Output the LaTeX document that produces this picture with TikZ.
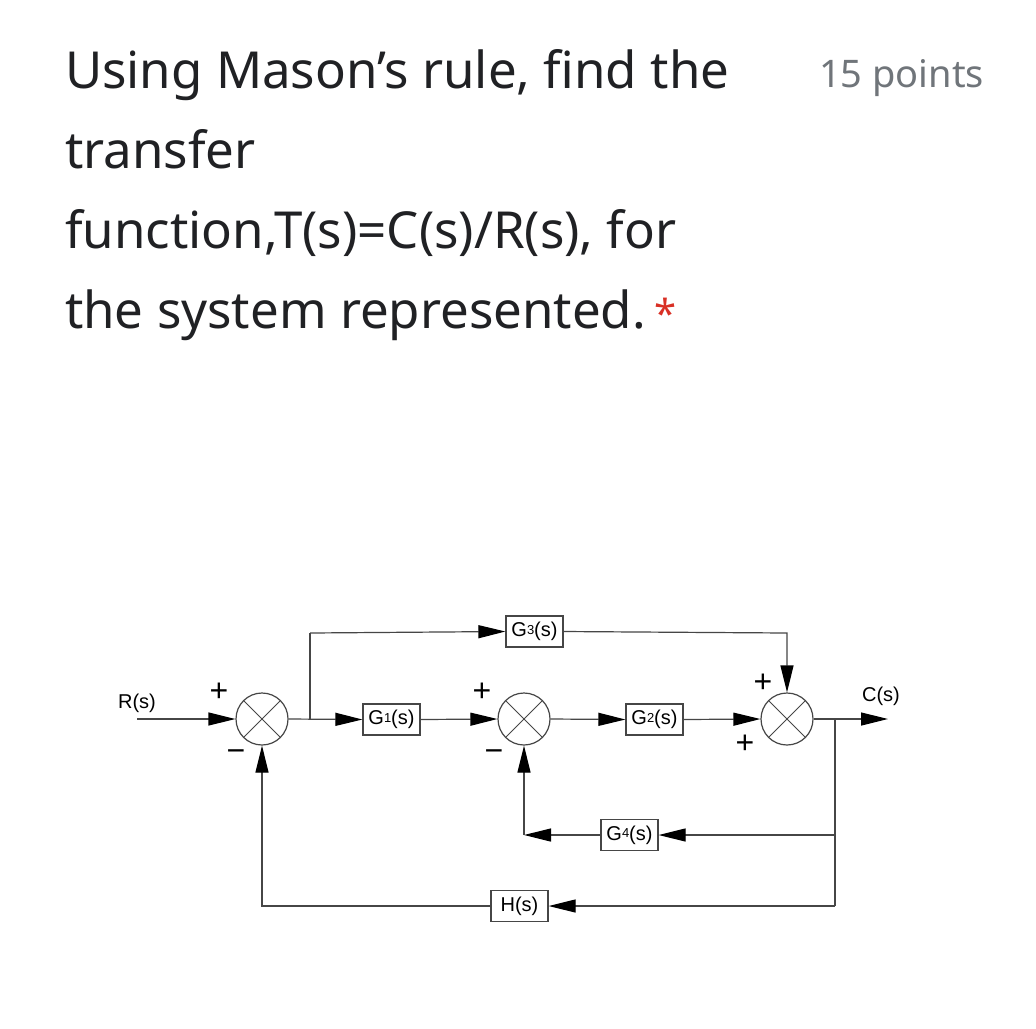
\documentclass[tikz,border=0pt]{standalone}
\usepackage{fontspec}
\setmainfont{Liberation Sans}
\newfontfamily\titlefont{Noto Sans}
\usetikzlibrary{arrows.meta}
\definecolor{ln}{RGB}{70,70,70}
\definecolor{pts}{RGB}{112,117,122}
\definecolor{ttl}{RGB}{32,33,36}
\definecolor{star}{RGB}{217,48,37}
\newcommand{\gblk}[1]{G\raisebox{0.25ex}{\fontsize{6.5}{7}\selectfont #1}(s)}
\begin{document}
\begin{tikzpicture}[x=0.5pt,y=-0.5pt,
  line/.style={draw=ln,line width=0.6pt},
  arr/.style={line,-{Triangle[length=13.5pt,width=6.5pt,fill=black,color=black]}},
  sum/.style={circle,draw=ln,line width=0.6pt,minimum size=26pt,inner sep=0pt,
    path picture={\draw[ln,line width=0.5pt] (path picture bounding box.south west)--(path picture bounding box.north east)
      (path picture bounding box.north west)--(path picture bounding box.south east);}},
  blk/.style={draw=ln,line width=0.6pt,minimum width=28.5pt,minimum height=15.5pt,inner sep=0pt,font=\fontsize{10}{12}\selectfont},
  lab/.style={font=\fontsize{10}{12}\selectfont},
  sgn/.style={font=\fontsize{16}{16}\selectfont},
  title/.style={anchor=base west,text=ttl,font=\titlefont\fontsize{25.5}{28}\selectfont}]
\useasboundingbox (0,0) rectangle (1036,1028);
\fill[white] (0,0) rectangle (1036,1028);
% title
\node[title] (t1) at (58,88) {Using Mason’s rule, find the};
\node[title] (t2) at (58,168) {transfer};
\node[title] (t3) at (58,248) {function,T(s)=C(s)/R(s), for};
\node[title] (t4) at (58,328) {the system represented.\,\textcolor{star}{\fontsize{20}{20}\selectfont *}};
\node[anchor=base east,text=pts,font=\titlefont\fontsize{19}{22}\selectfont] (pts) at (991,87) {15 points};
% sums
\node[sum] (s1) at (262,719) {};
\node[sum] (s2) at (524,719) {};
\node[sum] (s3) at (787,719) {};
% blocks
\node[blk] (g1) at (391.5,719.5) {\gblk{1}};
\node[blk] (g2) at (654.5,719.5) {\gblk{2}};
\node[blk] (g3) at (534.5,631.5) {\gblk{3}};
\node[blk] (g4) at (629.5,835) {\gblk{4}};
\node[blk] (h) at (519.5,906) {H(s)};
% coordinates
\coordinate (r0) at (137,719);
\coordinate (b1) at (310,719);
\coordinate (b1t) at (310,633);
\coordinate (g3r) at (787,633);
\coordinate (out) at (888,719);
\coordinate (b2) at (835,719);
\coordinate (b2m) at (835,835);
\coordinate (b2b) at (835,906);
\coordinate (c4) at (524,835);
\coordinate (ch) at (262,906);
% labels
\node[lab] (rl) at (137,703) {R(s)};
\node[lab] (cl) at (881,696) {C(s)};
\node[sgn] (p1) at (219,692) {+};
\node[sgn] (m1) at (236,756) {\textminus};
\node[sgn] (p2) at (482,692) {+};
\node[sgn] (m2) at (494,756) {\textminus};
\node[sgn] (p3) at (763,683) {+};
\node[sgn] (p4) at (745,744) {+};
% connectors
\draw[arr] (r0) -- (s1.west);
\draw[arr] (s1.east) -- (g1.west);
\draw[line] (b1) -- (b1t);
\draw[arr] (b1t) -- (g3.west);
\draw[arr] (g3.east) -- (g3r) -- (s3.north);
\draw[arr] (g1.east) -- (s2.west);
\draw[arr] (s2.east) -- (g2.west);
\draw[arr] (g2.east) -- (s3.west);
\draw[arr] (s3.east) -- (out);
\draw[line] (b2) -- (b2b);
\draw[arr] (b2m) -- (g4.east);
\draw[arr] (b2b) -- (h.east);
\draw[arr] (g4.west) -- (c4);
\draw[arr] (c4) -- (s2.south);
\draw[arr] (h.west) -- (ch) -- (s1.south);
\end{tikzpicture}
\end{document}
